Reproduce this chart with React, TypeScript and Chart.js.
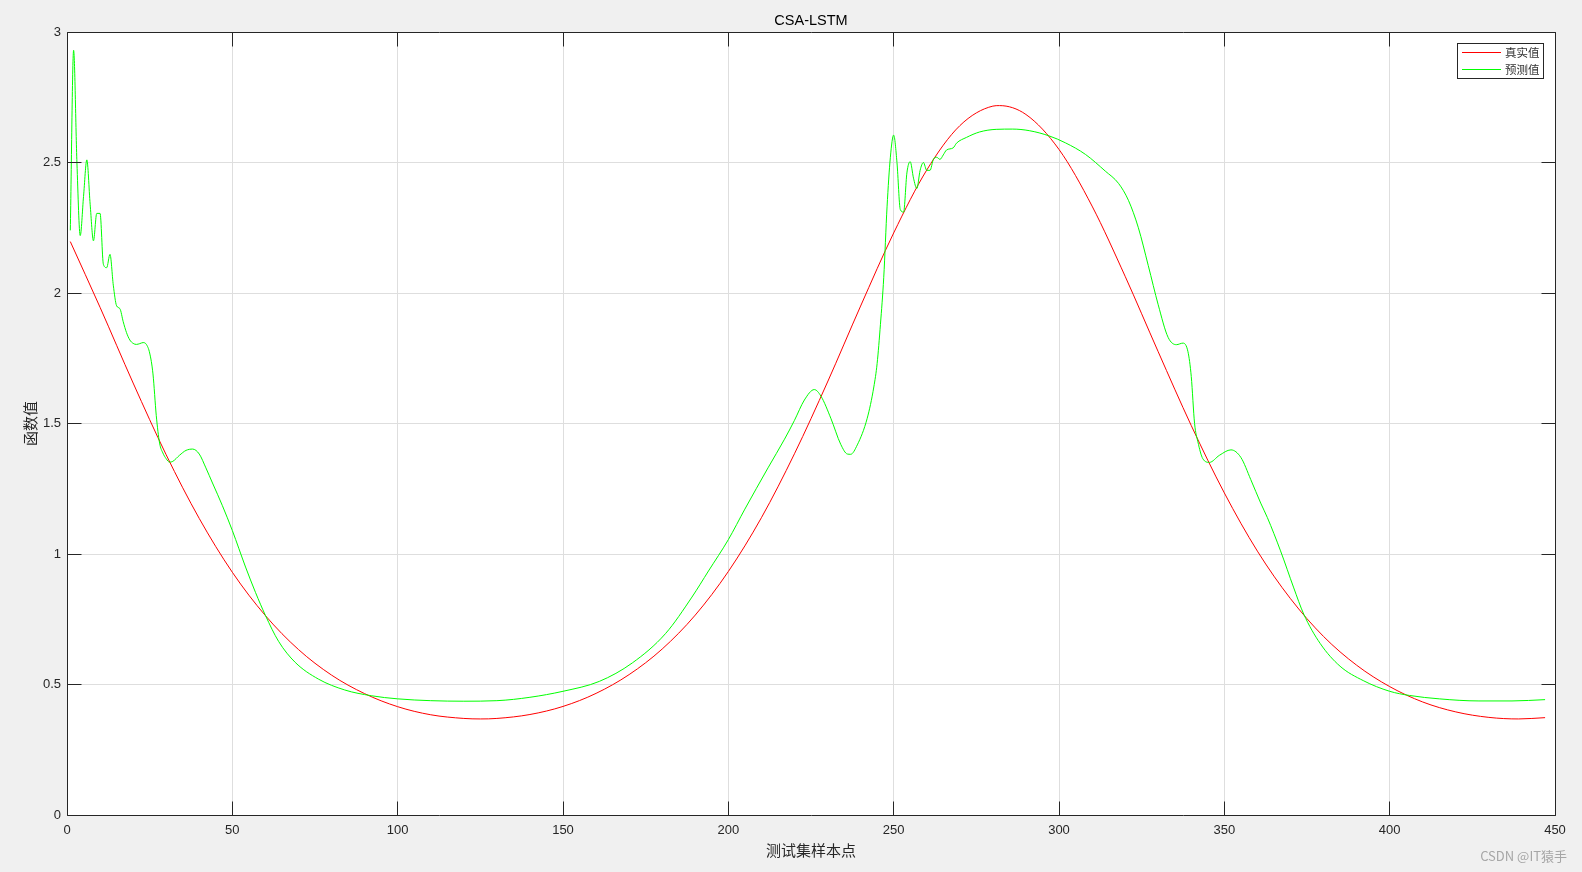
import React, { useEffect, useRef } from 'react';
import { Chart, registerables } from 'chart.js';

Chart.register(...registerables);

const TITLE = 'CSA-LSTM';
const X_LABEL = '测试集样本点';
const Y_LABEL = '函数值';
const SERIES_NAMES = ['真实值', '预测值'];
const SERIES_COLORS = ['#ff0000', '#00ff00'];
const WATERMARK = 'CSDN @IT猿手';

const X_MIN = 0;
const X_MAX = 450;
const X_STEP = 50;
const Y_MIN = 0;
const Y_MAX = 3;
const Y_STEP = 0.5;

// 真实值
const realX = [1, 10, 20, 30, 40, 50, 60, 70, 80, 90, 100, 110, 120, 125, 130, 140, 150, 160, 170, 180, 190, 200, 210, 220, 230, 240, 250, 260, 270, 280, 282, 290, 300, 310, 320, 330, 340, 350, 360, 370, 380, 390, 400, 410, 420, 430, 439, 447];
const realY = [2.197, 1.945, 1.655, 1.38, 1.136, 0.93, 0.764, 0.634, 0.536, 0.465, 0.415, 0.384, 0.37, 0.368, 0.37, 0.385, 0.416, 0.466, 0.538, 0.636, 0.766, 0.933, 1.139, 1.384, 1.659, 1.95, 2.23, 2.471, 2.641, 2.716, 2.718, 2.684, 2.55, 2.333, 2.064, 1.775, 1.492, 1.234, 1.011, 0.829, 0.684, 0.574, 0.492, 0.433, 0.395, 0.374, 0.368, 0.373];

// 预测值
const predX = [1, 2, 3, 4, 5, 6, 7, 8, 9, 10, 11, 12, 13, 14, 15, 16, 17, 18, 19, 20, 21, 22, 23, 24, 25, 26, 27, 28, 29, 30, 31, 32, 34, 36, 38, 40, 42, 44, 47, 50, 54, 57, 60, 64, 69, 76, 84, 92, 100, 110, 120, 130, 140, 150, 161, 171, 181, 189, 194, 200, 205, 212, 217, 220, 223, 226, 228, 231, 234, 236, 237, 239, 242, 244, 245, 246, 247, 248, 249, 250, 251, 252, 253, 254, 255, 256, 257, 258, 259, 260, 261, 262, 263, 264, 265, 266, 268, 269, 272, 276, 281, 286, 291, 297, 302, 308, 314, 318, 321, 324, 327, 330, 333, 335.5, 337.5, 339, 340, 341, 342, 343.5, 345.5, 348.5, 352, 355, 358, 361, 363, 367, 371, 374, 379, 385, 392, 400, 406, 415, 427, 437, 447];
const predY = [2.24, 2.93, 2.5, 2.22, 2.37, 2.51, 2.34, 2.2, 2.305, 2.305, 2.11, 2.097, 2.148, 2.03, 1.951, 1.94, 1.89, 1.848, 1.82, 1.807, 1.803, 1.806, 1.81, 1.803, 1.77, 1.69, 1.53, 1.425, 1.387, 1.365, 1.352, 1.355, 1.378, 1.397, 1.402, 1.383, 1.33, 1.272, 1.185, 1.09, 0.95, 0.853, 0.765, 0.665, 0.585, 0.521, 0.479, 0.457, 0.445, 0.438, 0.436, 0.438, 0.451, 0.474, 0.512, 0.583, 0.695, 0.835, 0.935, 1.055, 1.172, 1.33, 1.44, 1.512, 1.59, 1.63, 1.605, 1.52, 1.42, 1.383, 1.382, 1.418, 1.52, 1.64, 1.73, 1.88, 2.06, 2.33, 2.52, 2.605, 2.5, 2.32, 2.31, 2.46, 2.503, 2.44, 2.4, 2.47, 2.5, 2.47, 2.47, 2.512, 2.52, 2.512, 2.529, 2.548, 2.556, 2.574, 2.596, 2.617, 2.627, 2.628, 2.622, 2.602, 2.575, 2.531, 2.467, 2.42, 2.355, 2.25, 2.105, 1.955, 1.83, 1.802, 1.808, 1.775, 1.68, 1.5, 1.43, 1.365, 1.351, 1.378, 1.399, 1.37, 1.285, 1.195, 1.14, 1.012, 0.87, 0.77, 0.657, 0.57, 0.515, 0.474, 0.458, 0.445, 0.437, 0.437, 0.442];

const LATIN = "'Liberation Sans', Arial, Helvetica, sans-serif";
const CJK = "'Noto Sans CJK SC', 'Noto Sans', sans-serif";
const AXIS_COLOR = '#262626';

const matlabPlugin = {
  id: 'matlabLook',
  beforeDraw(chart: any) {
    const { ctx, width, height, chartArea: a } = chart;
    ctx.save();
    ctx.fillStyle = '#f0f0f0';
    ctx.fillRect(0, 0, width, height);
    ctx.fillStyle = '#ffffff';
    ctx.fillRect(a.left, a.top, a.right - a.left, a.bottom - a.top);
    ctx.restore();
  },
  afterDraw(chart: any) {
    const { ctx, chartArea: a, scales } = chart;
    const L = Math.floor(a.left) + 0.5;
    const R = Math.floor(a.right) + 0.5;
    const T = Math.floor(a.top) + 0.5;
    const B = Math.floor(a.bottom) + 0.5;
    const TL = 14;
    ctx.save();
    ctx.strokeStyle = AXIS_COLOR;
    ctx.lineWidth = 1;
    ctx.beginPath();
    ctx.rect(L, T, R - L, B - T);
    ctx.stroke();
    ctx.beginPath();
    scales.x.ticks.forEach((t: any) => {
      const px = Math.floor(scales.x.getPixelForValue(t.value)) + 0.5;
      ctx.moveTo(px, B);
      ctx.lineTo(px, B - TL);
      ctx.moveTo(px, T);
      ctx.lineTo(px, T + TL);
    });
    scales.y.ticks.forEach((t: any) => {
      const py = Math.floor(scales.y.getPixelForValue(t.value)) + 0.5;
      ctx.moveTo(L, py);
      ctx.lineTo(L + TL, py);
      ctx.moveTo(R, py);
      ctx.lineTo(R - TL, py);
    });
    ctx.stroke();

    // legend
    const lx = 1457.5;
    const ly = 43.5;
    const lw = 86;
    const lh = 35;
    ctx.fillStyle = '#ffffff';
    ctx.fillRect(lx, ly, lw, lh);
    ctx.strokeStyle = AXIS_COLOR;
    ctx.strokeRect(lx, ly, lw, lh);
    chart.data.datasets.forEach((ds: any, i: number) => {
      const y = 52.5 + i * 17;
      ctx.strokeStyle = ds.borderColor;
      ctx.lineWidth = 1;
      ctx.beginPath();
      ctx.moveTo(1462, y);
      ctx.lineTo(1501, y);
      ctx.stroke();
      ctx.fillStyle = '#333333';
      ctx.font = `11.5px ${CJK}`;
      ctx.textAlign = 'left';
      ctx.textBaseline = 'middle';
      ctx.fillText(ds.label, 1505, y);
    });

    // watermark
    ctx.fillStyle = '#a6a6a6';
    ctx.font = `13px ${CJK}`;
    ctx.textAlign = 'right';
    ctx.textBaseline = 'middle';
    ctx.fillText(WATERMARK, 1567, 856);
    ctx.restore();
  },
};

export default function App() {
  const ref = useRef<HTMLCanvasElement>(null);

  useEffect(() => {
    const canvas = ref.current;
    if (!canvas) return;
    const chart = new Chart(canvas, {
      type: 'line',
      data: {
        datasets: [
          {
            label: SERIES_NAMES[0],
            data: realX.map((x, i) => ({ x, y: realY[i] })),
            borderColor: SERIES_COLORS[0],
            backgroundColor: SERIES_COLORS[0],
            borderWidth: 1,
            pointRadius: 0,
            cubicInterpolationMode: 'monotone',
            order: 1,
          },
          {
            label: SERIES_NAMES[1],
            data: predX.map((x, i) => ({ x, y: predY[i] })),
            borderColor: SERIES_COLORS[1],
            backgroundColor: SERIES_COLORS[1],
            borderWidth: 1,
            pointRadius: 0,
            cubicInterpolationMode: 'monotone',
            order: 0,
          },
        ],
      },
      options: {
        animation: false,
        responsive: false,
        devicePixelRatio: 1,
        layout: { padding: { left: 0, top: 0, right: 27, bottom: 0 } },
        plugins: {
          legend: { display: false },
          tooltip: { enabled: false },
          title: {
            display: true,
            fullSize: false,
            text: TITLE,
            color: '#000000',
            font: { family: LATIN, size: 14.5, weight: 'normal' },
            padding: { top: 12.5, bottom: 2.1 },
          },
        },
        scales: {
          x: {
            type: 'linear',
            min: X_MIN,
            max: X_MAX,
            ticks: {
              stepSize: X_STEP,
              color: AXIS_COLOR,
              font: { family: LATIN, size: 13 },
              padding: 8,
              maxRotation: 0,
              autoSkip: false,
              callback: (v: any) => String(v),
            },
            grid: { color: '#dedede', drawTicks: false },
            border: { display: false },
            title: {
              display: true,
              text: X_LABEL,
              color: AXIS_COLOR,
              font: { family: CJK, size: 15 },
              padding: { top: 0, bottom: 13 },
            },
            afterFit: (s: any) => {
              s.height = 57;
            },
          },
          y: {
            type: 'linear',
            min: Y_MIN,
            max: Y_MAX,
            ticks: {
              stepSize: Y_STEP,
              color: AXIS_COLOR,
              font: { family: LATIN, size: 13 },
              padding: 6,
              callback: (v: any) => String(Math.round(v * 10) / 10),
            },
            grid: { color: '#dedede', drawTicks: false },
            border: { display: false },
            title: {
              display: true,
              text: Y_LABEL,
              color: AXIS_COLOR,
              font: { family: CJK, size: 15 },
              padding: { top: 21, bottom: 0 },
            },
            afterFit: (s: any) => {
              s.width = 67;
            },
          },
        },
      } as any,
      plugins: [matlabPlugin],
    });
    return () => chart.destroy();
  }, []);

  return (
    <div style={{ position: 'fixed', left: 0, top: 0, width: 1582, height: 872 }}>
      <canvas ref={ref} width={1582} height={872} style={{ display: 'block', width: 1582, height: 872 }} />
    </div>
  );
}
